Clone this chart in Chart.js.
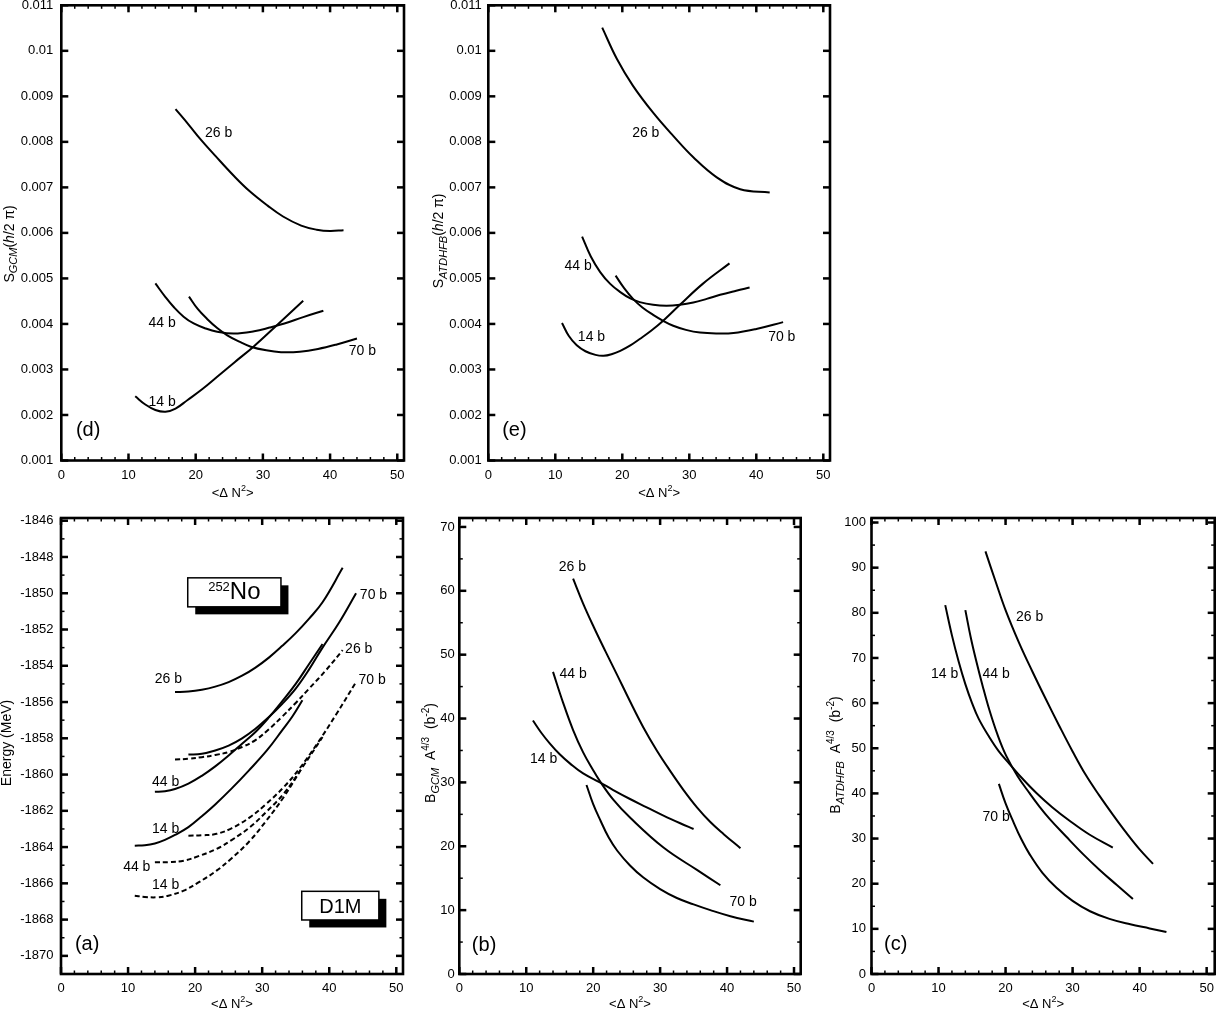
<!DOCTYPE html>
<html>
<head>
<meta charset="utf-8">
<script src="https://cdn.jsdelivr.net/npm/chart.js@4.4.1/dist/chart.umd.min.js"></script>
<style>
  body { margin: 0; background: #fff; width: 1216px; height: 1009px; position: relative; overflow: hidden; }
  canvas { position: absolute; }
</style>
</head>
<body>
<canvas id="chartD" width="415" height="500" style="left:0;top:0"></canvas>
<canvas id="chartE" width="435" height="500" style="left:415px;top:0"></canvas>
<canvas id="chartA" width="410" height="509" style="left:0;top:500px"></canvas>
<canvas id="chartB" width="420" height="509" style="left:410px;top:500px"></canvas>
<canvas id="chartC" width="396" height="509" style="left:820px;top:500px"></canvas>
<script>
// ---- tick labels ----
const xTicks = [0, 10, 20, 30, 40, 50];
const sTicks = [0.001, 0.002, 0.003, 0.004, 0.005, 0.006, 0.007, 0.008, 0.009, 0.01, 0.011];
const energyTicks = [-1870, -1868, -1866, -1864, -1862, -1860, -1858, -1856, -1854, -1852, -1850, -1848, -1846];
const bGcmTicks = [0, 10, 20, 30, 40, 50, 60, 70];
const bAtdhfbTicks = [0, 10, 20, 30, 40, 50, 60, 70, 80, 90, 100];

// ---- (d) S_GCM ----
const dX14 = [11, 12.5, 14, 15.5, 17, 18.8, 21, 23.2, 25.8, 28.6, 32, 36];
const dY14 = [0.00241, 0.00223, 0.00211, 0.00207, 0.00214, 0.00233, 0.00257, 0.00284, 0.00316, 0.0035, 0.00396, 0.00451];
const dX26 = [17, 19, 20.7, 23, 25.7, 28, 30.7, 33, 35.7, 38, 40, 42];
const dY26 = [0.00872, 0.00837, 0.00806, 0.00768, 0.00725, 0.00692, 0.0066, 0.00636, 0.00616, 0.00607, 0.00604, 0.00606];
const dX44 = [14, 15.5, 16.8, 18.2, 19.7, 21.5, 23.2, 25.7, 28.7, 31, 33.2, 36, 39];
const dY44 = [0.00489, 0.00459, 0.00436, 0.00416, 0.00401, 0.0039, 0.00383, 0.00379, 0.00384, 0.00392, 0.00401, 0.00415, 0.00429];
const dX70 = [19, 20.3, 21.7, 23.2, 24.7, 26.5, 28.2, 30.5, 32.7, 35.5, 38.2, 41, 44];
const dY70 = [0.0046, 0.00433, 0.00411, 0.00391, 0.00375, 0.00361, 0.0035, 0.00342, 0.00338, 0.00339, 0.00345, 0.00355, 0.00368];

// ---- (e) S_ATDHFB ----
const eX14 = [11, 12, 13.2, 14.5, 16, 17.2, 18.5, 19.7, 21.2, 22.6, 24.3, 26.1, 28.6, 32, 36];
const eY14 = [0.00402, 0.00374, 0.00353, 0.0034, 0.00332, 0.0033, 0.00334, 0.00341, 0.00353, 0.00367, 0.00385, 0.00407, 0.00442, 0.00488, 0.00533];
const eX26 = [17, 19.2, 21.6, 24.6, 27.6, 30.6, 34.1, 37.6, 42];
const eY26 = [0.01051, 0.00982, 0.00923, 0.00864, 0.00813, 0.00766, 0.00722, 0.00696, 0.00689];
const eX44 = [14, 15.3, 16.7, 18.2, 19.7, 21.2, 22.6, 24.6, 26.6, 28.6, 30.6, 32.6, 34.6, 37, 39];
const eY44 = [0.00592, 0.00548, 0.00514, 0.00488, 0.0047, 0.00456, 0.00448, 0.00442, 0.0044, 0.00442, 0.00447, 0.00455, 0.00464, 0.00473, 0.0048];
const eX70 = [19, 20.3, 21.6, 23, 24.6, 26.1, 27.6, 29.5, 31.6, 34, 36.6, 40, 44];
const eY70 = [0.00506, 0.00478, 0.00455, 0.00436, 0.0042, 0.00407, 0.00396, 0.00387, 0.00381, 0.00379, 0.0038, 0.00389, 0.00404];

// ---- (a) energy, solid and dashed ----
const aX14 = [11, 12.5, 14, 15.5, 17, 19, 21, 23, 25.5, 28, 30.7, 33, 34.5, 36];
const aY14 = [-1863.92, -1863.9, -1863.8, -1863.6, -1863.33, -1862.9, -1862.3, -1861.65, -1860.75, -1859.78, -1858.67, -1857.55, -1856.8, -1855.9];
const aX26 = [17, 19, 21, 23, 25, 27, 29, 31, 33, 35, 37, 39, 42];
const aY26 = [-1855.45, -1855.42, -1855.32, -1855.15, -1854.9, -1854.55, -1854.1, -1853.55, -1852.9, -1852.2, -1851.4, -1850.5, -1848.6];
const aX44 = [14, 15.5, 17, 19, 21, 23, 25, 27, 29, 31, 33, 35, 37, 39];
const aY44 = [-1860.95, -1860.92, -1860.8, -1860.5, -1860.07, -1859.55, -1858.95, -1858.3, -1857.65, -1856.85, -1855.95, -1855.0, -1853.9, -1852.8];
const aX70 = [19, 21, 23, 25, 27, 29, 31, 33, 35, 37, 39, 41.5, 44];
const aY70 = [-1858.9, -1858.85, -1858.67, -1858.4, -1858.0, -1857.47, -1856.83, -1856.1, -1855.26, -1854.2, -1853.0, -1851.6, -1850.0];
const aDashX14 = [11, 12.5, 14.3, 16, 18.3, 20.5, 23.2, 25.5, 28.2, 30.5, 33.2, 36];
const aDashY14 = [-1866.68, -1866.75, -1866.77, -1866.68, -1866.4, -1865.95, -1865.3, -1864.6, -1863.64, -1862.6, -1861.25, -1859.6];
const aDashX26 = [17, 19, 21, 23, 25, 27, 29, 31, 33, 35, 37, 39.5, 42];
const aDashY26 = [-1859.17, -1859.13, -1859.04, -1858.92, -1858.76, -1858.48, -1858.1, -1857.5, -1856.8, -1856.05, -1855.26, -1854.25, -1853.14];
const aDashX44 = [14, 16, 18.3, 20.5, 23.2, 25.5, 28.2, 30.5, 33.2, 36, 39];
const aDashY44 = [-1864.84, -1864.83, -1864.75, -1864.5, -1864.1, -1863.6, -1862.9, -1862.1, -1861.06, -1859.6, -1857.93];
const aDashX70 = [19, 21, 23.2, 25.5, 28.2, 30.5, 33.2, 35.5, 38.2, 41, 44];
const aDashY70 = [-1863.37, -1863.35, -1863.27, -1862.95, -1862.35, -1861.65, -1860.7, -1859.7, -1858.3, -1856.7, -1854.9];

// ---- (b) B_GCM A^4/3 ----
const bX14 = [11, 12.3, 13.6, 15, 16.6, 18.5, 21, 23, 25.5, 28, 30.5, 33, 35];
const bY14 = [39.7, 37.7, 36.0, 34.4, 32.9, 31.4, 30.0, 28.8, 27.4, 26.1, 24.8, 23.6, 22.7];
const bX26 = [17, 18.5, 20.1, 21.8, 23.5, 25.5, 27.5, 29.5, 31.5, 33.5, 35.5, 37.5, 39.5, 42];
const bY26 = [61.9, 58, 54.3, 50.6, 47.0, 42.7, 38.6, 35.0, 31.8, 28.8, 26.1, 23.8, 21.9, 19.7];
const bX44 = [14, 15.5, 17, 18.5, 20, 21, 23, 25.5, 30.5, 35.5, 39];
const bY44 = [47.3, 42.5, 38.2, 34.7, 31.9, 30.2, 27.3, 24.5, 19.8, 16.3, 13.9];
const bX70 = [19, 20, 21.1, 22.3, 23.6, 25.5, 27.5, 30, 32.5, 35, 37.5, 40.5, 44];
const bY70 = [29.6, 26.6, 24.0, 21.4, 19.3, 17.0, 15.1, 13.3, 11.9, 10.9, 10.0, 9.05, 8.2];

// ---- (c) B_ATDHFB A^4/3 ----
const cX14 = [11, 12, 13, 14, 15, 16, 17.6, 19, 20.6, 22.5, 24.6, 27, 29.6, 32.5, 36];
const cY14 = [81.7, 75.0, 69.2, 64.2, 60.0, 56.5, 52.4, 49.3, 46.5, 43.3, 40.1, 36.9, 33.9, 30.9, 28.0];
const cX26 = [17, 18.5, 20, 22, 24, 26, 28, 30, 32, 34, 36, 38, 40, 42];
const cY26 = [93.6, 87, 80.6, 73.4, 67.0, 60.9, 55.0, 49.3, 44.0, 39.5, 35.3, 31.3, 27.6, 24.4];
const cX44 = [14, 14.8, 15.6, 16.6, 17.6, 18.8, 20.1, 21.8, 23.6, 25, 26.6, 29, 31.6, 34, 36.6, 39];
const cY44 = [80.6, 74.6, 69.5, 63.7, 58.4, 53.0, 48.3, 43.8, 40.0, 37.2, 34.3, 30.5, 26.5, 23.1, 19.7, 16.6];
const cX70 = [19, 20, 21.1, 22.3, 23.6, 25.5, 27.6, 30, 32.6, 35.5, 38.6, 41.5, 44];
const cY70 = [42.1, 37.8, 33.9, 30.0, 26.5, 22.4, 19.1, 16.2, 13.9, 12.2, 11.0, 10.1, 9.3];

Chart.defaults.font.family = '"Liberation Sans", Arial, Helvetica, sans-serif';
Chart.defaults.font.size = 13;
Chart.defaults.color = '#000';
Chart.defaults.animation = false;

const FONT = '"Liberation Sans", Arial, Helvetica, sans-serif';

function curve(xs, ys, dashed) {
    return {
        data: xs.map((x, i) => ({ x: x, y: ys[i] })),
        borderColor: '#000',
        borderWidth: 2,
        borderDash: dashed ? [5, 3] : [],
        pointRadius: 0,
        tension: 0.4,
        fill: false
    };
}

// text made of pieces: [text, size, shift, style]
function drawPieces(ctx, pieces, bx, by, rotate) {
    ctx.save();
    ctx.translate(bx, by);
    if (rotate) ctx.rotate(-Math.PI / 2);
    ctx.fillStyle = '#000';
    ctx.textAlign = 'left';
    ctx.textBaseline = 'alphabetic';
    let total = 0;
    pieces.forEach(p => {
        ctx.font = (p[3] || '') + ' ' + p[1] + 'px ' + FONT;
        total += ctx.measureText(p[0]).width;
    });
    let x = -total / 2;
    pieces.forEach(p => {
        ctx.font = (p[3] || '') + ' ' + p[1] + 'px ' + FONT;
        ctx.fillText(p[0], x, p[2]);
        x += ctx.measureText(p[0]).width;
    });
    ctx.restore();
}

// frame, inward ticks, curve labels, boxes and axis titles
const decor = {
    id: 'decor',
    afterDatasetsDraw(chart, args, o) {
        const { ctx, chartArea: a, scales: { x, y } } = chart;
        ctx.save();
        ctx.strokeStyle = '#000';
        const seg = (x1, y1, x2, y2, w) => {
            ctx.lineWidth = w;
            ctx.beginPath();
            ctx.moveTo(x1, y1);
            ctx.lineTo(x2, y2);
            ctx.stroke();
        };

        // minor ticks
        for (let v = 0; v <= x.max; v += 2) {
            const px = x.getPixelForValue(v);
            seg(px, a.bottom, px, a.bottom - 3.5, 1.5);
            seg(px, a.top, px, a.top + 3.5, 1.5);
        }
        if (o.yMinor) {
            for (let v = o.yTicks[0]; v <= y.max; v += o.yMinor) {
                const py = y.getPixelForValue(v);
                seg(a.left, py, a.left + 3.5, py, 1.5);
                seg(a.right, py, a.right - 3.5, py, 1.5);
            }
        }
        // major ticks
        xTicks.forEach(v => {
            const px = x.getPixelForValue(v);
            seg(px, a.bottom, px, a.bottom - 7, 2.5);
            seg(px, a.top, px, a.top + 7, 2.5);
        });
        o.yTicks.forEach(v => {
            const py = y.getPixelForValue(v);
            seg(a.left, py, a.left + 7, py, 2.5);
            seg(a.right, py, a.right - 7, py, 2.5);
        });

        // boxes with drop shadow
        (o.boxes || []).forEach(b => {
            const x1 = x.getPixelForValue(b.x1), x2 = x.getPixelForValue(b.x2);
            const y1 = y.getPixelForValue(b.y1), y2 = y.getPixelForValue(b.y2);
            ctx.fillStyle = '#000';
            ctx.fillRect(x1 + 7.5, y1 + 7.5, x2 - x1, y2 - y1);
            ctx.fillStyle = '#fff';
            ctx.fillRect(x1, y1, x2 - x1, y2 - y1);
            ctx.lineWidth = 1.5;
            ctx.strokeRect(x1, y1, x2 - x1, y2 - y1);
            drawPieces(ctx, b.text, (x1 + x2) / 2, y2 - b.base, false);
        });

        // frame
        ctx.lineWidth = 2.6;
        ctx.strokeRect(a.left, a.top, a.right - a.left, a.bottom - a.top);

        // curve labels
        ctx.fillStyle = '#000';
        ctx.textAlign = 'center';
        ctx.textBaseline = 'middle';
        o.labels.forEach(l => {
            ctx.font = (l[3] || 14) + 'px ' + FONT;
            ctx.fillText(l[2], x.getPixelForValue(l[0]), y.getPixelForValue(l[1]));
        });

        // axis titles
        drawPieces(ctx, o.yTitle, a.left + o.yTitleDx, (a.top + a.bottom) / 2 + o.yTitleDy, true);
        drawPieces(ctx, [['<Δ N', 13, 0], ['2', 9, -6], ['>', 13, 0]],
            (a.left + a.right) / 2, a.bottom + o.xTitleDy, false);
        ctx.restore();
    }
};

function makePanel(id, g, datasets, yMin, yMax, yTicks, fmt, deco) {
    deco.yTicks = yTicks;
    return new Chart(document.getElementById(id), {
        type: 'line',
        data: { datasets: datasets },
        plugins: [decor],
        options: {
            responsive: false,
            animation: false,
            events: [],
            layout: { padding: { left: 0, top: g.top, right: g.right, bottom: 0 } },
            plugins: { legend: { display: false }, tooltip: { enabled: false }, decor: deco },
            scales: {
                x: {
                    type: 'linear', min: 0, max: g.xMax,
                    grid: { display: false, drawTicks: false, tickLength: 0 }, border: { display: false },
                    afterBuildTicks: s => { s.ticks = xTicks.map(v => ({ value: v })); },
                    afterFit: s => { s.height = g.xH; s.paddingLeft = 0; s.paddingRight = 0; },
                    ticks: { padding: g.xPad, maxRotation: 0, autoSkip: false, font: { size: 13 }, callback: v => String(v) }
                },
                y: {
                    type: 'linear', min: yMin, max: yMax,
                    grid: { display: false, drawTicks: false, tickLength: 0 }, border: { display: false },
                    afterBuildTicks: s => { s.ticks = yTicks.map(v => ({ value: v })); },
                    afterFit: s => { s.width = g.yW; s.paddingTop = 0; s.paddingBottom = 0; },
                    ticks: { padding: g.yPad, autoSkip: false, font: { size: 13 }, callback: fmt }
                }
            }
        }
    });
}

const sFmt = v => String(Number(v.toFixed(3)));
const intFmt = v => String(v);

// (d)
makePanel('chartD', { top: 5.3, right: 11, yW: 61.3, xH: 39.5, xMax: 51, xPad: 7, yPad: 8 },
    [curve(dX14, dY14), curve(dX26, dY26), curve(dX44, dY44), curve(dX70, dY70)],
    0.001, 0.011, sTicks, sFmt, {
        labels: [[23.4, 0.00819, '26 b'], [15, 0.00401, '44 b'], [44.8, 0.00341, '70 b'],
                 [15, 0.00229, '14 b'], [4, 0.00165, '(d)', 20]],
        yTitle: [['S', 14, 0], ['GCM', 11, 3.5, 'italic'], ['(', 14, 0], ['h', 14, 0, 'italic'], ['/2 π)', 14, 0]],
        yTitleDx: -47.8, yTitleDy: 11, xTitleDy: 36
    });

// (e)
makePanel('chartE', { top: 5.3, right: 20, yW: 73.3, xH: 39.5, xMax: 51, xPad: 7, yPad: 6.5 },
    [curve(eX14, eY14), curve(eX26, eY26), curve(eX44, eY44), curve(eX70, eY70)],
    0.001, 0.011, sTicks, sFmt, {
        labels: [[23.5, 0.00819, '26 b'], [13.4, 0.00526, '44 b'], [15.4, 0.00371, '14 b'],
                 [43.8, 0.00371, '70 b'], [3.9, 0.00165, '(e)', 20]],
        yTitle: [['S', 14, 0], ['ATDHFB', 11, 3.5, 'italic'], ['(', 14, 0], ['h', 14, 0, 'italic'], ['/2 π)', 14, 0]],
        yTitleDx: -45.3, yTitleDy: 8, xTitleDy: 36
    });

// (a)
makePanel('chartA', { top: 18, right: 7, yW: 61, xH: 35, xMax: 51, xPad: 6.5, yPad: 7.5 },
    [curve(aX14, aY14), curve(aX26, aY26), curve(aX44, aY44), curve(aX70, aY70),
     curve(aDashX14, aDashY14, true), curve(aDashX26, aDashY26, true),
     curve(aDashX44, aDashY44, true), curve(aDashX70, aDashY70, true)],
    -1871, -1845.85, energyTicks, intFmt, {
        yMinor: 1,
        labels: [[16, -1854.75, '26 b'], [15.6, -1860.4, '44 b'], [15.6, -1863.0, '14 b'],
                 [11.3, -1865.1, '44 b'], [15.6, -1866.1, '14 b'], [46.6, -1850.1, '70 b'],
                 [44.4, -1853.1, '26 b'], [46.4, -1854.8, '70 b'], [3.9, -1869.35, '(a)', 20]],
        boxes: [
            { x1: 18.9, x2: 32.8, y1: -1849.15, y2: -1850.75, base: 7.5, text: [['252', 13, -8.5], ['No', 24, 0]] },
            { x1: 35.9, x2: 47.4, y1: -1866.44, y2: -1868.02, base: 6.5, text: [['D1M', 20, 0]] }
        ],
        yTitle: [['Energy (MeV)', 14, 0]],
        yTitleDx: -50, yTitleDy: -3, xTitleDy: 34
    });

// (b)
makePanel('chartB', { top: 18, right: 29.3, yW: 49.3, xH: 35, xMax: 51, xPad: 6.5, yPad: 4.5 },
    [curve(bX14, bY14), curve(bX26, bY26), curve(bX44, bY44), curve(bX70, bY70)],
    0, 71.4, bGcmTicks, intFmt, {
        yMinor: 5,
        labels: [[16.9, 63.7, '26 b'], [17, 46.9, '44 b'], [12.6, 33.6, '14 b'],
                 [42.4, 11.3, '70 b'], [3.7, 4.5, '(b)', 20]],
        yTitle: [['B', 14, 0], ['GCM', 11, 3.5, 'italic'], ['  A', 14, 0], ['4/3', 10, -6],
                 ['  (b', 14, 0], ['-2', 10, -6], [')', 14, 0]],
        yTitleDx: -24.3, yTitleDy: 7, xTitleDy: 34
    });

// (c)
makePanel('chartC', { top: 18, right: 1.3, yW: 51.5, xH: 35, xMax: 51.2, xPad: 6.5, yPad: 5.5 },
    [curve(cX14, cY14), curve(cX26, cY26), curve(cX44, cY44), curve(cX70, cY70)],
    0, 101, bAtdhfbTicks, intFmt, {
        yMinor: 5,
        labels: [[23.6, 79.0, '26 b'], [10.9, 66.4, '14 b'], [18.6, 66.4, '44 b'],
                 [18.6, 34.8, '70 b'], [3.6, 6.5, '(c)', 20]],
        yTitle: [['B', 14, 0], ['ATDHFB', 11, 3.5, 'italic'], ['  A', 14, 0], ['4/3', 10, -6],
                 ['  (b', 14, 0], ['-2', 10, -6], [')', 14, 0]],
        yTitleDx: -31.5, yTitleDy: 9, xTitleDy: 34
    });
</script>
</body>
</html>
